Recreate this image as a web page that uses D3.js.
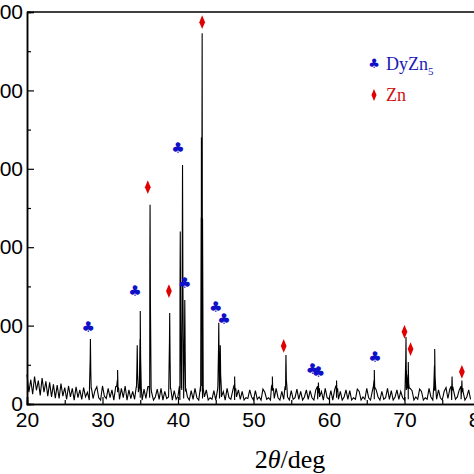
<!DOCTYPE html>
<html><head><meta charset="utf-8">
<script src="https://cdn.jsdelivr.net/npm/d3@7"></script>
<style>body{margin:0;background:#fff}</style></head>
<body><div id="chart"></div>
<script>
// baseline intensity, every 0.25 deg from 20
var baseline = [75,30,62,25,70,35,60,22,66,30,58,20,55,18,50,15,48,14,52,20,42,12,46,18,
  40,10,44,16,36,12,42,18,30,10,40,14,34,44,16,10,46,20,14,40,16,36,10,44,
  30,12,40,16,46,10,36,14,32,12,42,30,16,10,38,14,44,16,30,10,18,38,12,40,
  10,32,14,18,38,10,34,12,20,10,36,14,32,18,10,34,12,40,16,10,32,14,18,36,
  10,16,12,34,10,38,14,18,32,10,40,16,12,34,10,18,36,12,32,10,16,14,36,18,
  10,34,12,18,10,38,30,12,16,10,34,14,40,16,10,32,12,36,18,10,34,12,16,38,
  12,32,10,18,36,12,34,16,10,36,12,18,32,10,40,16,12,34,10,36,16,12,32,10,
  18,36,12,34,10,16,12,38,32,10,18,12,40,16,10,34,12,36,18,10,32,12,16,40,
  12,34,10,18,36,12,32,16,10,36,12,40,34,10,18,12,38,32,10,16,12,40,18,10,
  34,12,36,16,10,32,42,14,38,10,34,12,18,36,12,32,10,18,36,12];
var peakPos = [28.4,32.0,34.6,35.0,36.3,38.9,40.3,40.6,40.9,43.1,43.2,45.4,45.6,47.5,52.5,54.3,58.6,61.0,66.0,70.2,70.5,74.0,76.3,77.6];
var peakInt = [166,87,150,237,508,232,440,610,265,680,946,207,150,70,70,125,55,60,87,171,107,140,70,60];
var clubX = [28.1,34.3,40.0,40.9,45.0,46.1,57.8,58.6,66.1];
var clubY = [199,291,656,311,250,219,92,84,122];
var diamX = [36.0,38.8,43.2,54.0,70.0,70.8,77.6];
var diamY = [553,288,974,148,184,140,82];

var W = 474, H = 474;
var x = d3.scaleLinear().domain([20, 80]).range([27, 27 + 60 * 7.55]);
var y = d3.scaleLinear().domain([0, 1000]).range([404, 12]);

var svg = d3.select("#chart").append("svg").attr("width", W).attr("height", H);

var pts = baseline.map(function (v, i) { return [20 + i * 0.25, v]; });
peakPos.forEach(function (p, i) {
  pts.push([p - 0.12, 45], [p - 0.03, peakInt[i] * 0.7], [p, peakInt[i]], [p + 0.05, peakInt[i] * 0.5], [p + 0.14, 40]);
});
pts = pts.filter(function (d) { return d[0] <= 80; }).sort(function (a, b) { return a[0] - b[0]; });

svg.append("path").datum(pts)
  .attr("fill", "none").attr("stroke", "#000").attr("stroke-width", 1.1)
  .attr("d", d3.line().x(function (d) { return x(d[0]); }).y(function (d) { return y(d[1]); }));

// axes
svg.append("g").attr("transform", "translate(0,404)")
  .call(d3.axisBottom(x).tickValues(d3.range(20, 81, 10)).tickSize(-7).tickPadding(8).tickFormat(d3.format("d")));
svg.append("g").attr("transform", "translate(0,404)")
  .call(d3.axisBottom(x).tickValues(d3.range(25, 81, 10)).tickSize(-4).tickFormat(""));
svg.append("g").attr("transform", "translate(27,0)")
  .call(d3.axisLeft(y).tickValues(d3.range(0, 1001, 200)).tickSize(-7).tickPadding(4));
svg.append("g").attr("transform", "translate(27,0)")
  .call(d3.axisLeft(y).tickValues(d3.range(100, 1000, 200)).tickSize(-4).tickFormat(""));
svg.selectAll(".domain").attr("stroke", "#000").attr("stroke-width", 1.5);
svg.selectAll(".tick line").attr("stroke", "#000").attr("stroke-width", 1.2);
svg.selectAll(".tick text").attr("font-family", "'Liberation Sans', Arial").attr("font-size", 21).attr("fill", "#000");
svg.append("line").attr("x1", 27).attr("x2", W).attr("y1", 12).attr("y2", 12).attr("stroke", "#000").attr("stroke-width", 1.5);

// markers
var sym = d3.symbol().type(d3.symbolDiamond).size(45);
svg.selectAll(".dm").data(diamX).enter().append("path")
  .attr("transform", function (d, i) { return "translate(" + x(d) + "," + y(diamY[i]) + ") scale(0.8,1.1)"; })
  .attr("d", sym).attr("fill", "#e00000");
svg.selectAll(".cl").data(clubX).enter().append("text")
  .attr("x", function (d) { return x(d); }).attr("y", function (d, i) { return y(clubY[i]) + 6; })
  .attr("text-anchor", "middle").attr("font-size", 15).attr("fill", "#1010c8")
  .attr("font-family", "DejaVu Sans").text("\u2663");

// legend
svg.append("text").attr("x", 374).attr("y", 68).attr("text-anchor", "middle").attr("font-size", 13)
  .attr("fill", "#1010c8").attr("font-family", "DejaVu Sans").text("\u2663");
var lt = svg.append("text").attr("x", 386).attr("y", 70).attr("font-family", "'Liberation Serif', serif")
  .attr("font-size", 18).attr("fill", "#1a1ab4");
lt.append("tspan").text("DyZn");
lt.append("tspan").attr("font-size", 11).attr("dy", 5).text("5");
svg.append("path").attr("transform", "translate(374,95) scale(0.8,1.1)")
  .attr("d", d3.symbol().type(d3.symbolDiamond).size(35)).attr("fill", "#e00000");
svg.append("text").attr("x", 386).attr("y", 101).attr("font-family", "'Liberation Serif', serif")
  .attr("font-size", 18).attr("fill", "#d01010").text("Zn");

// x label
var xl = svg.append("text").attr("x", 290).attr("y", 468).attr("text-anchor", "middle")
  .attr("font-family", "'Liberation Serif', serif").attr("font-size", 26).attr("fill", "#000");
xl.append("tspan").text("2");
xl.append("tspan").attr("font-style", "italic").text("\u03b8");
xl.append("tspan").text("/deg");
</script></body></html>
